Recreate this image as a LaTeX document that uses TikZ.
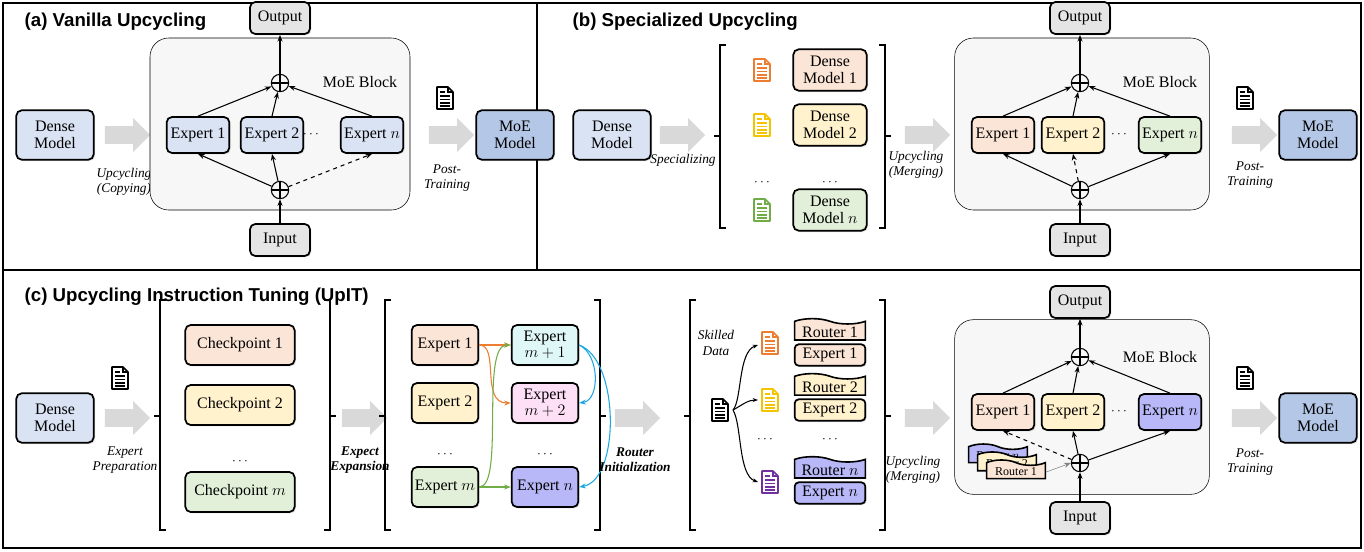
\documentclass[tikz,border=0pt]{standalone}
\usepackage{fontspec}
\setmainfont{Liberation Serif}
\newfontfamily\ttlfont{Liberation Sans}
\usetikzlibrary{shapes.arrows,shapes.symbols,shadows,arrows.meta}
\definecolor{cBlue}{HTML}{DAE3F3}
\definecolor{cBlueD}{HTML}{B4C7E7}
\definecolor{cOra}{HTML}{FBE5D6}
\definecolor{cYel}{HTML}{FFF2CC}
\definecolor{cGre}{HTML}{E2F0D9}
\definecolor{cCya}{HTML}{E0F7F7}
\definecolor{cPin}{HTML}{FDE0F6}
\definecolor{cPur}{HTML}{B8B8F8}
\definecolor{lOra}{HTML}{ED7D31}
\definecolor{lYel}{HTML}{F5C400}
\definecolor{lGre}{HTML}{70AD47}
\definecolor{lPur}{HTML}{7030A0}
\definecolor{lCya}{HTML}{1CA7E0}

\tikzset{
  box/.style={draw, line width=1.3pt, rounded corners=4pt, align=center,
    font=\fontsize{12}{12.5}\selectfont, inner sep=1pt,
    drop shadow={opacity=0.25, shadow xshift=1pt, shadow yshift=-1pt}},
  dense/.style={box, fill=cBlue, minimum width=58pt, minimum height=37pt},
  exp/.style={box, minimum width=47pt, minimum height=27pt},
  io/.style={box, fill=gray!20, minimum width=45pt, minimum height=24pt},
  mid/.style={box, minimum width=55pt, minimum height=31pt},
  ckp/.style={box, minimum width=82pt, minimum height=30pt},
  cex/.style={box, minimum width=50pt, minimum height=30pt},
  rtr/.style={tape, draw, line width=1.2pt, tape bend top=out and in, tape bend bottom=none,
    tape bend height=4pt, minimum width=53pt, minimum height=13pt, inner sep=0pt,
    font=\fontsize{12}{12}\selectfont},
  rex/.style={box, minimum width=53pt, minimum height=16pt, rounded corners=3pt},
  plus/.style={circle, draw, thick, minimum size=13pt, inner sep=0pt,
    path picture={\draw[thick] (path picture bounding box.north) -- (path picture bounding box.south)
      (path picture bounding box.west) -- (path picture bounding box.east);}},
  blk/.style={single arrow, fill=gray!30, minimum height=34pt, inner sep=6.5pt,
    single arrow head extend=6pt},
  lab/.style={font=\itshape\fontsize{10}{11.5}\selectfont, align=center},
  blab/.style={font=\bfseries\itshape\fontsize{10}{11.5}\selectfont, align=center},
  moe/.style={draw, rounded corners=14pt, fill=gray!6},
  ttl/.style={font=\ttlfont\bfseries\fontsize{14}{15}\selectfont, anchor=west},
  con/.style={-{Stealth[length=5pt]}, thick},
  pics/doc/.style={code={
    \draw[#1, line width=1.2pt, line join=round, fill=white]
      (-8,-11) -- (3,-11) -- (8,-6) -- (8,11) -- (-8,11) -- cycle;
    \draw[#1, line width=1pt] (3,-11) -- (3,-6) -- (8,-6);
    \draw[#1, line width=1pt] (-5,-6) -- (0,-6) (-5,-2) -- (5,-2) (-5,1.5) -- (5,1.5)
      (-5,5) -- (5,5) (-5,8) -- (5,8);}},
}

\begin{document}
\begin{tikzpicture}[x=0.75pt, y=-0.75pt]
\useasboundingbox (0,0) rectangle (1364,551);
\draw[line width=1pt] (3,3) rectangle (1361,548);
\draw[line width=1pt] (3,270) -- (1361,270);
\draw[line width=1pt] (537,3) -- (537,270);

% ---------------- (a)
\node[ttl] at (20,22) {(a) Vanilla Upcycling};
\node[dense] (aD) at (55,135) {Dense\\Model};
\node[blk] (aA1) at (123,135) {};
\node[lab] at (124,182) {Upcycling\\(Copying)};
\node[moe, minimum width=195pt, minimum height=129pt] (aM) at (280,124) {};
\node[font=\fontsize{12}{12}\selectfont] at (360,82) {MoE Block};
\node[io] (aO) at (280,18) {Output};
\node[plus] (aP1) at (280,83) {};
\node[plus] (aP2) at (280,190) {};
\node[exp, fill=cBlue] (aE1) at (198,135) {Expert 1};
\node[exp, fill=cBlue] (aE2) at (272,135) {Expert 2};
\node at (311,135) {$\cdots$};
\node[exp, fill=cBlue] (aEn) at (372,135) {Expert $n$};
\node[io] (aI) at (280,240) {Input};
\draw[con] (aI) -- (aP2);
\draw[con] (aP2) -- (aE1.south);
\draw[con] (aP2) -- (aE2.south);
\draw[con, dashed] (aP2) -- (aEn.south);
\draw[con] (aE1.north) -- (aP1);
\draw[con] (aE2.north) -- (aP1);
\draw[con] (aEn.north) -- (aP1);
\draw[con] (aP1) -- (aO);
\pic at (445,98) {doc=black};
\node[blk] (aA2) at (447,135) {};
\node[lab] at (447,178) {Post-\\Training};
\node[dense, fill=cBlueD] (aR) at (515,135) {MoE\\Model};

% ---------------- (b)
\node[ttl] at (568,22) {(b) Specialized Upcycling};
\node[dense] (bD) at (612,135) {Dense\\Model};
\node[blk] (bA1) at (678,135) {};
\node[lab] at (683,160) {Specializing};
\draw[line width=1.3pt] (726,45) -- (720,45) -- (720,228) -- (726,228) (720,136) -- (714,136);
\draw[line width=1.3pt] (879,45) -- (885,45) -- (885,228) -- (879,228) (885,136) -- (891,136);
\pic at (762,70) {doc=lOra};
\pic at (762,125) {doc=lYel};
\pic at (762,210) {doc=lGre};
\node[mid, fill=cOra] (bM1) at (830,70) {Dense\\Model 1};
\node[mid, fill=cYel] (bM2) at (830,125) {Dense\\Model 2};
\node at (762,183) {$\cdots$};
\node at (830,183) {$\cdots$};
\node[mid, fill=cGre] (bMn) at (830,210) {Dense\\Model $n$};
\node[blk] (bA2) at (923,135) {};
\node[lab] at (916,165) {Upcycling\\(Merging)};
\node[moe, minimum width=191pt, minimum height=129pt] (bM) at (1082,124) {};
\node[font=\fontsize{12}{12}\selectfont] at (1160,82) {MoE Block};
\node[io] (bO) at (1080,18) {Output};
\node[plus] (bP1) at (1080,83) {};
\node[plus] (bP2) at (1080,190) {};
\node[exp, fill=cOra] (bE1) at (1003,135) {Expert 1};
\node[exp, fill=cYel] (bE2) at (1073,135) {Expert 2};
\node at (1119,135) {$\cdots$};
\node[exp, fill=cGre] (bEn) at (1170,135) {Expert $n$};
\node[io] (bI) at (1080,240) {Input};
\draw[con] (bI) -- (bP2);
\draw[con] (bP2) -- (bE1.south);
\draw[con, dashed] (bP2) -- (bE2.south);
\draw[con] (bP2) -- (bEn.south);
\draw[con] (bE1.north) -- (bP1);
\draw[con] (bE2.north) -- (bP1);
\draw[con] (bEn.north) -- (bP1);
\draw[con] (bP1) -- (bO);
\pic at (1245,98) {doc=black};
\node[blk] (bA3) at (1250,135) {};
\node[lab] at (1250,175) {Post-\\Training};
\node[dense, fill=cBlueD] (bR) at (1318,135) {MoE\\Model};

% ---------------- (c)
\node[ttl] at (20,297) {(c) Upcycling Instruction Tuning (UpIT)};
\node[dense] (cD) at (55,418) {Dense\\Model};
\pic at (120,378) {doc=black};
\node[blk] (cA1) at (123,418) {};
\node[lab] at (125,460) {Expert\\Preparation};
\draw[line width=1.3pt] (166,300) -- (160,300) -- (160,530) -- (166,530) (160,416) -- (154,416);
\draw[line width=1.3pt] (324,300) -- (330,300) -- (330,530) -- (324,530) (330,416) -- (336,416);
\node[ckp, fill=cOra] (cK1) at (240,345) {Checkpoint 1};
\node[ckp, fill=cYel] (cK2) at (240,405) {Checkpoint 2};
\node at (240,462) {$\cdots$};
\node[ckp, fill=cGre] (cKm) at (240,492) {Checkpoint $m$};
\node[blk] (cA2) at (360,418) {};
\node[blab] at (360,460) {Expect\\Expansion};
\draw[line width=1.3pt] (391,300) -- (385,300) -- (385,530) -- (391,530) (385,416) -- (379,416);
\draw[line width=1.3pt] (594,300) -- (600,300) -- (600,530) -- (594,530) (600,416) -- (606,416);
\node[cex, fill=cOra] (cE1) at (445,345) {Expert 1};
\node[cex, fill=cYel] (cE2) at (445,403) {Expert 2};
\node at (445,455) {$\cdots$};
\node[cex, fill=cGre] (cEm) at (445,487) {Expert $m$};
\node[cex, fill=cCya] (cF1) at (545,345) {Expert\\$m+1$};
\node[cex, fill=cPin] (cF2) at (545,403) {Expert\\$m+2$};
\node at (545,455) {$\cdots$};
\node[cex, fill=cPur] (cFn) at (545,487) {Expert $n$};
\draw[lOra, -{Stealth[length=5pt]}, thick] (cE1.east) -- (cF1.west);
\draw[lOra, -{Stealth[length=5pt]}, thick] (cE1.east) .. controls (500,345) and (480,403) .. (cF2.west);
\draw[lGre, -{Stealth[length=5pt]}, thick] (cEm.east) -- (cFn.west);
\draw[lGre, -{Stealth[length=5pt]}, thick] (cEm.east) .. controls (505,487) and (480,345) .. (cF1.west);
\draw[lCya, -{Stealth[length=5pt]}, thick] (cF1.east) .. controls (600,355) and (600,400) .. (cF2.east);
\draw[lCya, -{Stealth[length=5pt]}, thick] (cF1.east) .. controls (620,360) and (620,480) .. (cFn.east);
\node[blk] (cA3) at (633,418) {};
\node[blab] at (635,460) {Router\\Initialization};
\draw[line width=1.3pt] (696,300) -- (690,300) -- (690,530) -- (696,530) (690,416) -- (684,416);
\draw[line width=1.3pt] (879,300) -- (885,300) -- (885,530) -- (879,530) (885,416) -- (891,416);
\node[lab] at (716,343) {Skilled\\Data};
\pic at (720,410) {doc=black};
\coordinate (cS) at (733,410);
\coordinate (cT1) at (758,345);
\coordinate (cT2) at (758,400);
\coordinate (cTn) at (758,482);
\pic at (770,343) {doc=lOra};
\pic at (770,400) {doc=lYel};
\pic at (770,482) {doc=lPur};
\draw[-{Stealth[length=4pt]}, thick] (cS) .. controls (742,400) and (738,352) .. (cT1);
\draw[-{Stealth[length=4pt]}, thick] (cS) .. controls (742,405) and (748,400) .. (cT2);
\draw[-{Stealth[length=4pt]}, thick] (cS) .. controls (742,425) and (738,475) .. (cTn);
\node[rtr, fill=cOra] (cR1) at (830,332) {Router 1};
\node[rex, fill=cOra] (cX1) at (830,355) {Expert 1};
\node[rtr, fill=cYel] (cR2) at (830,387) {Router 2};
\node[rex, fill=cYel] (cX2) at (830,410) {Expert 2};
\node at (765,440) {$\cdots$};
\node at (830,440) {$\cdots$};
\node[rtr, fill=cPur] (cRn) at (830,470) {Router $n$};
\node[rex, fill=cPur] (cXn) at (830,493) {Expert $n$};
\node[blk] (cA4) at (923,418) {};
\node[lab] at (913,470) {Upcycling\\(Merging)};
\node[moe, minimum width=191pt, minimum height=131pt] (cM) at (1082,407) {};
\node[font=\fontsize{12}{12}\selectfont] at (1160,357) {MoE Block};
\node[io] (cO) at (1080,302) {Output};
\node[plus] (cP1) at (1080,357) {};
\node[plus] (cP2) at (1080,463) {};
\node[exp, fill=cOra] (cG1) at (1003,412) {Expert 1};
\node[exp, fill=cYel] (cG2) at (1073,412) {Expert 2};
\node at (1119,412) {$\cdots$};
\node[exp, fill=cPur] (cGn) at (1170,412) {Expert $n$};
\node[io] (cI) at (1080,518) {Input};
\node[rtr, fill=cPur, minimum width=44pt, font=\fontsize{9}{9}\selectfont] (cQn) at (998,456) {Router $n$};
\node[rtr, fill=cYel, minimum width=44pt, font=\fontsize{9}{9}\selectfont] (cQ2) at (1007,464) {Router 2};
\node[rtr, fill=cOra, minimum width=44pt, font=\fontsize{9}{9}\selectfont] (cQ1) at (1016,472) {Router 1};
\draw[-{Stealth[length=5pt]}, gray] (cQ1.east) -- (cP2.west);
\draw[con] (cI) -- (cP2);
\draw[con, dashed] (cP2) -- (cG1.south);
\draw[con] (cP2) -- (cG2.south);
\draw[con] (cP2) -- (cGn.south);
\draw[con] (cG1.north) -- (cP1);
\draw[con] (cG2.north) -- (cP1);
\draw[con] (cGn.north) -- (cP1);
\draw[con] (cP1) -- (cO);
\pic at (1245,378) {doc=black};
\node[blk] (cA5) at (1250,418) {};
\node[lab] at (1250,462) {Post-\\Training};
\node[dense, fill=cBlueD] (cR) at (1318,418) {MoE\\Model};
\end{tikzpicture}
\end{document}
